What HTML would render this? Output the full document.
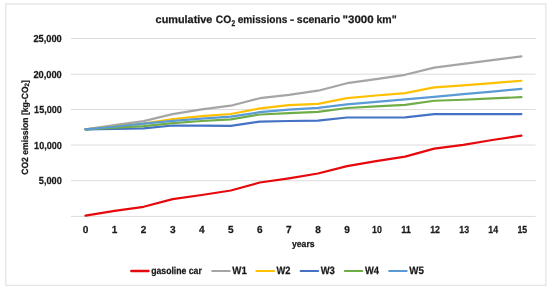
<!DOCTYPE html>
<html lang="en"><head><meta charset="utf-8"><title>cumulative CO2 emissions</title>
<style>
html,body{margin:0;padding:0;background:#fff;}
body{width:550px;height:289px;overflow:hidden;}
svg{display:block;position:absolute;left:0;top:0;}
text{text-rendering:geometricPrecision;font-family:"Liberation Sans",sans-serif;font-weight:bold;fill:#1a1a1a;stroke:#1a1a1a;stroke-width:0.25px;}
.g{stroke:#dcdcdc;stroke-width:1;fill:none;}
.s{fill:none;stroke-width:2.2;stroke-linejoin:round;stroke-linecap:round;}
</style></head><body>
<svg width="550" height="289" viewBox="0 0 550 289">
<rect x="0" y="0" width="550" height="289" fill="#ffffff"/>
<rect x="5.8" y="4.0" width="540.1" height="281.4" fill="#ffffff" stroke="#e4e4e4" stroke-width="1.3"/>

<line class="g" x1="71" y1="216.40" x2="535.6" y2="216.40"/>
<line class="g" x1="71" y1="180.65" x2="535.6" y2="180.65"/>
<line class="g" x1="71" y1="145.00" x2="535.6" y2="145.00"/>
<line class="g" x1="71" y1="109.55" x2="535.6" y2="109.55"/>
<line class="g" x1="71" y1="74.15" x2="535.6" y2="74.15"/>
<line class="g" x1="71" y1="38.50" x2="535.6" y2="38.50"/>
<text font-size="10.8"><tspan x="155.6" y="22.55" textLength="56.8" lengthAdjust="spacingAndGlyphs">cumulative</tspan> <tspan x="215.8" y="22.55" textLength="15.5" lengthAdjust="spacingAndGlyphs">CO</tspan><tspan x="231.5" y="25.55" font-size="8.4" textLength="3.7" lengthAdjust="spacingAndGlyphs">2</tspan> <tspan x="237.7" y="22.55" textLength="49.6" lengthAdjust="spacingAndGlyphs">emissions</tspan> <tspan x="289.9" y="22.55" textLength="4.2" lengthAdjust="spacingAndGlyphs">-</tspan> <tspan x="296.8" y="22.55" textLength="43.3" lengthAdjust="spacingAndGlyphs">scenario</tspan> <tspan x="342.6" y="22.55" textLength="31.0" lengthAdjust="spacingAndGlyphs">"3000</tspan> <tspan x="376.5" y="22.55" textLength="20.2" lengthAdjust="spacingAndGlyphs">km"</tspan></text>
<text x="38.8" y="184.15" font-size="10.2" textLength="23.0" lengthAdjust="spacingAndGlyphs">5,000</text>
<text x="34.1" y="148.50" font-size="10.2" textLength="27.7" lengthAdjust="spacingAndGlyphs">10,000</text>
<text x="34.1" y="113.05" font-size="10.2" textLength="27.7" lengthAdjust="spacingAndGlyphs">15,000</text>
<text x="33.4" y="77.65" font-size="10.2" textLength="28.4" lengthAdjust="spacingAndGlyphs">20,000</text>
<text x="33.4" y="42.00" font-size="10.2" textLength="28.4" lengthAdjust="spacingAndGlyphs">25,000</text>
<text x="82.70" y="232.8" font-size="10.2" textLength="5.6" lengthAdjust="spacingAndGlyphs">0</text>
<text x="111.76" y="232.8" font-size="10.2" textLength="5.6" lengthAdjust="spacingAndGlyphs">1</text>
<text x="140.82" y="232.8" font-size="10.2" textLength="5.6" lengthAdjust="spacingAndGlyphs">2</text>
<text x="169.88" y="232.8" font-size="10.2" textLength="5.6" lengthAdjust="spacingAndGlyphs">3</text>
<text x="198.94" y="232.8" font-size="10.2" textLength="5.6" lengthAdjust="spacingAndGlyphs">4</text>
<text x="228.00" y="232.8" font-size="10.2" textLength="5.6" lengthAdjust="spacingAndGlyphs">5</text>
<text x="257.06" y="232.8" font-size="10.2" textLength="5.6" lengthAdjust="spacingAndGlyphs">6</text>
<text x="286.12" y="232.8" font-size="10.2" textLength="5.6" lengthAdjust="spacingAndGlyphs">7</text>
<text x="315.18" y="232.8" font-size="10.2" textLength="5.6" lengthAdjust="spacingAndGlyphs">8</text>
<text x="344.24" y="232.8" font-size="10.2" textLength="5.6" lengthAdjust="spacingAndGlyphs">9</text>
<text x="372.10" y="232.8" font-size="10.2" textLength="9.8" lengthAdjust="spacingAndGlyphs">10</text>
<text x="401.16" y="232.8" font-size="10.2" textLength="9.8" lengthAdjust="spacingAndGlyphs">11</text>
<text x="430.22" y="232.8" font-size="10.2" textLength="9.8" lengthAdjust="spacingAndGlyphs">12</text>
<text x="459.28" y="232.8" font-size="10.2" textLength="9.8" lengthAdjust="spacingAndGlyphs">13</text>
<text x="488.34" y="232.8" font-size="10.2" textLength="9.8" lengthAdjust="spacingAndGlyphs">14</text>
<text x="517.40" y="232.8" font-size="10.2" textLength="9.8" lengthAdjust="spacingAndGlyphs">15</text>
<text x="292" y="247.2" font-size="9.4" textLength="22.6" lengthAdjust="spacingAndGlyphs">years</text>
<text transform="translate(27.6,174.8) rotate(-90)" x="0" y="0" font-size="9" textLength="94.6" lengthAdjust="spacingAndGlyphs">CO2 emission [kg-CO<tspan font-size="6.3" dy="1.8">2</tspan><tspan dy="-1.8">]</tspan></text>
<polyline class="s" stroke="#e5080c" stroke-width="2.7" points="85.50,215.60 114.56,210.90 143.62,206.80 172.68,199.10 201.74,195.00 230.80,190.50 259.86,182.50 288.92,178.30 317.98,173.50 347.04,166.10 376.10,161.10 405.16,156.60 434.22,148.60 463.28,144.80 492.34,140.00 521.40,135.60"/>
<polyline class="s" stroke="#a5a5a5" points="85.50,129.30 114.56,125.10 143.62,121.10 172.68,114.10 201.74,109.30 230.80,105.70 259.86,98.20 288.92,94.80 317.98,90.70 347.04,83.20 376.10,79.10 405.16,74.80 434.22,67.60 463.28,63.80 492.34,60.20 521.40,56.40"/>
<polyline class="s" stroke="#ffc000" points="85.50,129.30 114.56,126.40 143.62,123.60 172.68,119.00 201.74,116.10 230.80,114.00 259.86,108.40 288.92,105.10 317.98,103.90 347.04,98.10 376.10,95.50 405.16,93.15 434.22,87.45 463.28,85.35 492.34,83.05 521.40,80.75"/>
<polyline class="s" stroke="#4472c4" points="85.50,129.30 114.56,128.80 143.62,128.40 172.68,125.50 201.74,125.60 230.80,125.80 259.86,121.60 288.92,121.00 317.98,120.70 347.04,117.50 376.10,117.50 405.16,117.30 434.22,114.20 463.28,114.10 492.34,114.10 521.40,114.10"/>
<polyline class="s" stroke="#70ad47" points="85.50,129.30 114.56,127.70 143.62,126.10 172.68,123.10 201.74,121.00 230.80,119.40 259.86,114.50 288.92,113.10 317.98,111.90 347.04,108.00 376.10,106.40 405.16,104.85 434.22,100.75 463.28,99.75 492.34,98.45 521.40,97.15"/>
<polyline class="s" stroke="#5b9bd5" points="85.50,129.30 114.56,126.50 143.62,123.70 172.68,120.85 201.74,118.55 230.80,116.55 259.86,112.20 288.92,109.70 317.98,107.80 347.04,104.40 376.10,101.80 405.16,99.35 434.22,96.95 463.28,94.05 492.34,91.55 521.40,88.95"/>
<line x1="131.35" y1="271.1" x2="148.45" y2="271.1" stroke="#e5080c" stroke-width="2.5" stroke-linecap="round"/>
<text x="151.2" y="273.9" font-size="9.9" textLength="50.6" lengthAdjust="spacingAndGlyphs">gasoline car</text>
<line x1="212.20" y1="271.1" x2="229.80" y2="271.1" stroke="#a5a5a5" stroke-width="2.0" stroke-linecap="round"/>
<text x="232.3" y="273.9" font-size="10.6" textLength="14.5" lengthAdjust="spacingAndGlyphs">W1</text>
<line x1="256.40" y1="271.1" x2="274.00" y2="271.1" stroke="#ffc000" stroke-width="2.0" stroke-linecap="round"/>
<text x="276.5" y="273.9" font-size="10.6" textLength="14.0" lengthAdjust="spacingAndGlyphs">W2</text>
<line x1="300.60" y1="271.1" x2="318.20" y2="271.1" stroke="#4472c4" stroke-width="2.0" stroke-linecap="round"/>
<text x="320.7" y="273.9" font-size="10.6" textLength="14.2" lengthAdjust="spacingAndGlyphs">W3</text>
<line x1="344.80" y1="271.1" x2="362.40" y2="271.1" stroke="#70ad47" stroke-width="2.0" stroke-linecap="round"/>
<text x="364.9" y="273.9" font-size="10.6" textLength="14.0" lengthAdjust="spacingAndGlyphs">W4</text>
<line x1="389.10" y1="271.1" x2="406.70" y2="271.1" stroke="#5b9bd5" stroke-width="2.0" stroke-linecap="round"/>
<text x="409.2" y="273.9" font-size="10.6" textLength="14.6" lengthAdjust="spacingAndGlyphs">W5</text>
</svg></body></html>
